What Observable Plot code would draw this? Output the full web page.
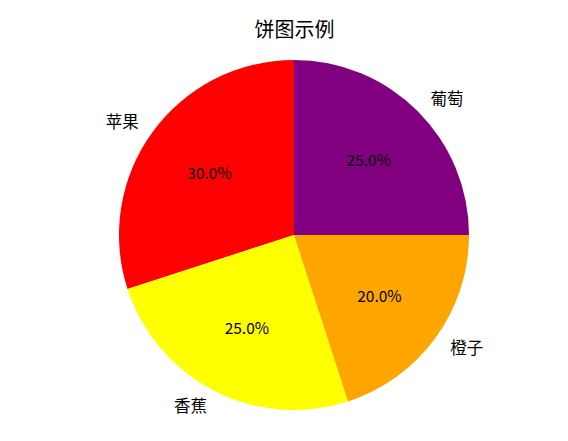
<!DOCTYPE html>
<html>
<head>
<meta charset="utf-8">
<script src="https://cdn.jsdelivr.net/npm/d3@7"></script>
<script src="https://cdn.jsdelivr.net/npm/@observablehq/plot@0.6"></script>
<style>
  html, body { margin: 0; padding: 0; background: #fff; }
</style>
</head>
<body>
<div id="chart"></div>
<script>
const title = "饼图示例";
const labels = ["苹果", "香蕉", "橙子", "葡萄"];
const values = [30, 25, 20, 25];
const colors = ["red", "yellow", "orange", "purple"];

const W = 568, H = 441;
const cxPx = 294, cyPx = 235, R = 175;

// counterclockwise from 12 o'clock (matplotlib startangle=90)
const arcs = d3.pie().sort(null).startAngle(0).endAngle(-2 * Math.PI)(values);
const total = d3.sum(values);
const slices = arcs.map((a, i) => {
  const mid = (a.startAngle + a.endAngle) / 2;
  return {
    label: labels[i],
    pct: (values[i] / total * 100).toFixed(1) + "%",
    color: colors[i],
    sx: Math.sin(mid),
    sy: Math.cos(mid),
    arc: a
  };
});

const pieMark = (index, scales) => {
  const cx = scales.x(0), cy = scales.y(0);
  const r = scales.x(1) - scales.x(0);
  const g = d3.create("svg:g").attr("transform", `translate(${cx},${cy})`);
  g.selectAll("path").data(slices).join("path")
    .attr("d", d => d3.arc().innerRadius(0).outerRadius(r)(d.arc))
    .attr("fill", d => d.color);
  return g.node();
};

const font = "'Noto Sans CJK SC', 'Noto Sans', sans-serif";
const leftSide = slices.filter(d => d.sx < 0);
const rightSide = slices.filter(d => d.sx >= 0);

const chart = Plot.plot({
  width: W,
  height: H,
  margin: 0,
  x: { domain: [-cxPx / R, (W - cxPx) / R], range: [0, W], axis: null },
  y: { domain: [-(H - cyPx) / R, cyPx / R], range: [H, 0], axis: null },
  style: { fontFamily: font, background: "#fff" },
  marks: [
    pieMark,
    Plot.text(leftSide, {
      x: d => 1.1 * d.sx, y: d => 1.1 * d.sy, text: "label",
      textAnchor: "end", lineAnchor: "middle", fontSize: 16.5, fill: "black"
    }),
    Plot.text(rightSide, {
      x: d => 1.1 * d.sx, y: d => 1.1 * d.sy, text: "label",
      textAnchor: "start", lineAnchor: "middle", fontSize: 16.5, fill: "black"
    }),
    Plot.text(slices, {
      x: d => 0.6 * d.sx, y: d => 0.6 * d.sy, text: "pct",
      textAnchor: "middle", lineAnchor: "middle", fontSize: 15.5, fill: "black"
    }),
    Plot.text([title], {
      x: () => 0, frameAnchor: "top", dy: 30, text: d => d,
      textAnchor: "middle", lineAnchor: "middle", fontSize: 20, fill: "black"
    })
  ]
});

document.getElementById("chart").appendChild(chart);
</script>
</body>
</html>
